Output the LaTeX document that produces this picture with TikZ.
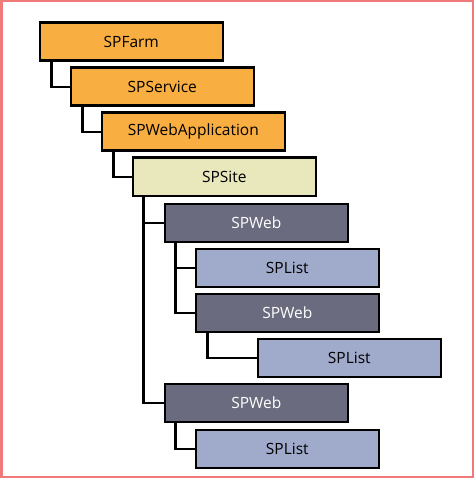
\documentclass[tikz,border=0pt]{standalone}
\usepackage{fontspec}
\setmainfont{Open Sans}
\definecolor{orangeC}{HTML}{F8AE40}
\definecolor{siteC}{HTML}{E8E8BC}
\definecolor{webC}{HTML}{6A6B7E}
\definecolor{listC}{HTML}{A0AACB}
\definecolor{frameC}{HTML}{F07A7A}
\begin{document}
\begin{tikzpicture}[x=1pt,y=-1pt,
  box/.style={draw=black,line width=2.6pt,minimum width=183pt,minimum height=38pt,inner sep=0pt,anchor=north west,font=\fontsize{15.5}{18}\selectfont},
  farm/.style={box,fill=orangeC},
  site/.style={box,fill=siteC},
  web/.style={box,fill=webC,text=white},
  lst/.style={box,fill=listC},
  conn/.style={draw=black,line width=2.2pt}]
\useasboundingbox (0,0) rectangle (474,478);
\fill[white] (0,0) rectangle (474,478);
\draw[frameC,line width=2.5pt] (1.25,1.25) rectangle (472.75,476.75);
\node[farm] (farm) at (38.5,21.5) {SPFarm};
\node[farm] (svc) at (69.5,66.5) {SPService};
\node[farm] (wapp) at (100.5,111.5) {SPWebApplication};
\node[site] (site) at (131.5,156.5) {SPSite};
\node[web] (web1) at (163.5,202.5) {SPWeb};
\node[lst] (list1) at (194.5,247.5) {SPList};
\node[web] (web2) at (194.5,292.5) {SPWeb};
\node[lst] (list2) at (256.5,337.5) {SPList};
\node[web] (web3) at (163.5,382.5) {SPWeb};
\node[lst] (list3) at (194.5,428.5) {SPList};
\draw[conn] ([xshift=13pt]farm.south west) |- (svc.west);
\draw[conn] ([xshift=13pt]svc.south west) |- (wapp.west);
\draw[conn] ([xshift=13pt]wapp.south west) |- (site.west);
\draw[conn] ([xshift=12pt]site.south west) |- (web1.west);
\draw[conn] ([xshift=12pt]site.south west) |- (web3.west);
\draw[conn] ([xshift=12pt]web1.south west) |- (list1.west);
\draw[conn] ([xshift=12pt]web1.south west) |- (web2.west);
\draw[conn] ([xshift=13pt]web2.south west) |- (list2.west);
\draw[conn] ([xshift=12pt]web3.south west) |- (list3.west);
\end{tikzpicture}
\end{document}
